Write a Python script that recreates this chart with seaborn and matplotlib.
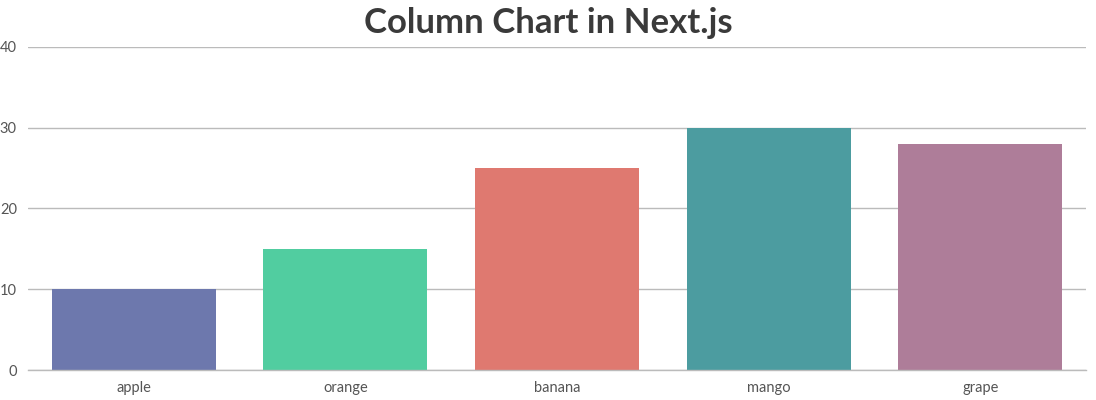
import matplotlib
matplotlib.use("Agg")
import matplotlib.pyplot as plt
import seaborn as sns
import pandas as pd

# data
fruits = ["apple", "orange", "banana", "mango", "grape"]
values = [10, 15, 25, 30, 28]
colors = ["#6D78AD", "#51CDA0", "#DF7970", "#4C9CA0", "#AE7D99"]
y_ticks = [0, 10, 20, 30, 40]

df = pd.DataFrame({"fruit": fruits, "value": values})

sns.set_style("white")
plt.rcParams["font.family"] = ["Lato", "DejaVu Sans"]

fig = plt.figure(figsize=(10.96, 4), dpi=100)
ax = fig.add_axes([28 / 1096, 1 - 370 / 400, (1086 - 28) / 1096, (370 - 47) / 400])

sns.barplot(data=df, x="fruit", y="value", hue="fruit", palette=colors,
            width=0.775, legend=False, ax=ax, saturation=1, linewidth=0)

ax.set_ylim(0, 40)
ax.set_yticks(y_ticks)
ax.set_xlim(-0.5, len(fruits) - 0.5)
ax.yaxis.grid(True, color="#BBBBBB", linewidth=1)
ax.set_axisbelow(True)

for s in ["top", "right", "left"]:
    ax.spines[s].set_visible(False)
ax.spines["bottom"].set_color("#BBBBBB")
ax.spines["bottom"].set_linewidth(1)

ax.tick_params(axis="y", length=5, color="#BBBBBB", labelsize=10.5, labelcolor="#555555", pad=3)
ax.tick_params(axis="x", length=5, color="#BBBBBB", labelsize=10.5, labelcolor="#555555", pad=3)
ax.set_xlabel("")
ax.set_ylabel("")

fig.suptitle("Column Chart in Next.js", fontsize=25, fontweight="bold",
             color="#3A3A3A", y=1 - 23 / 400, va="center")

fig.savefig("out.png", dpi=100)
